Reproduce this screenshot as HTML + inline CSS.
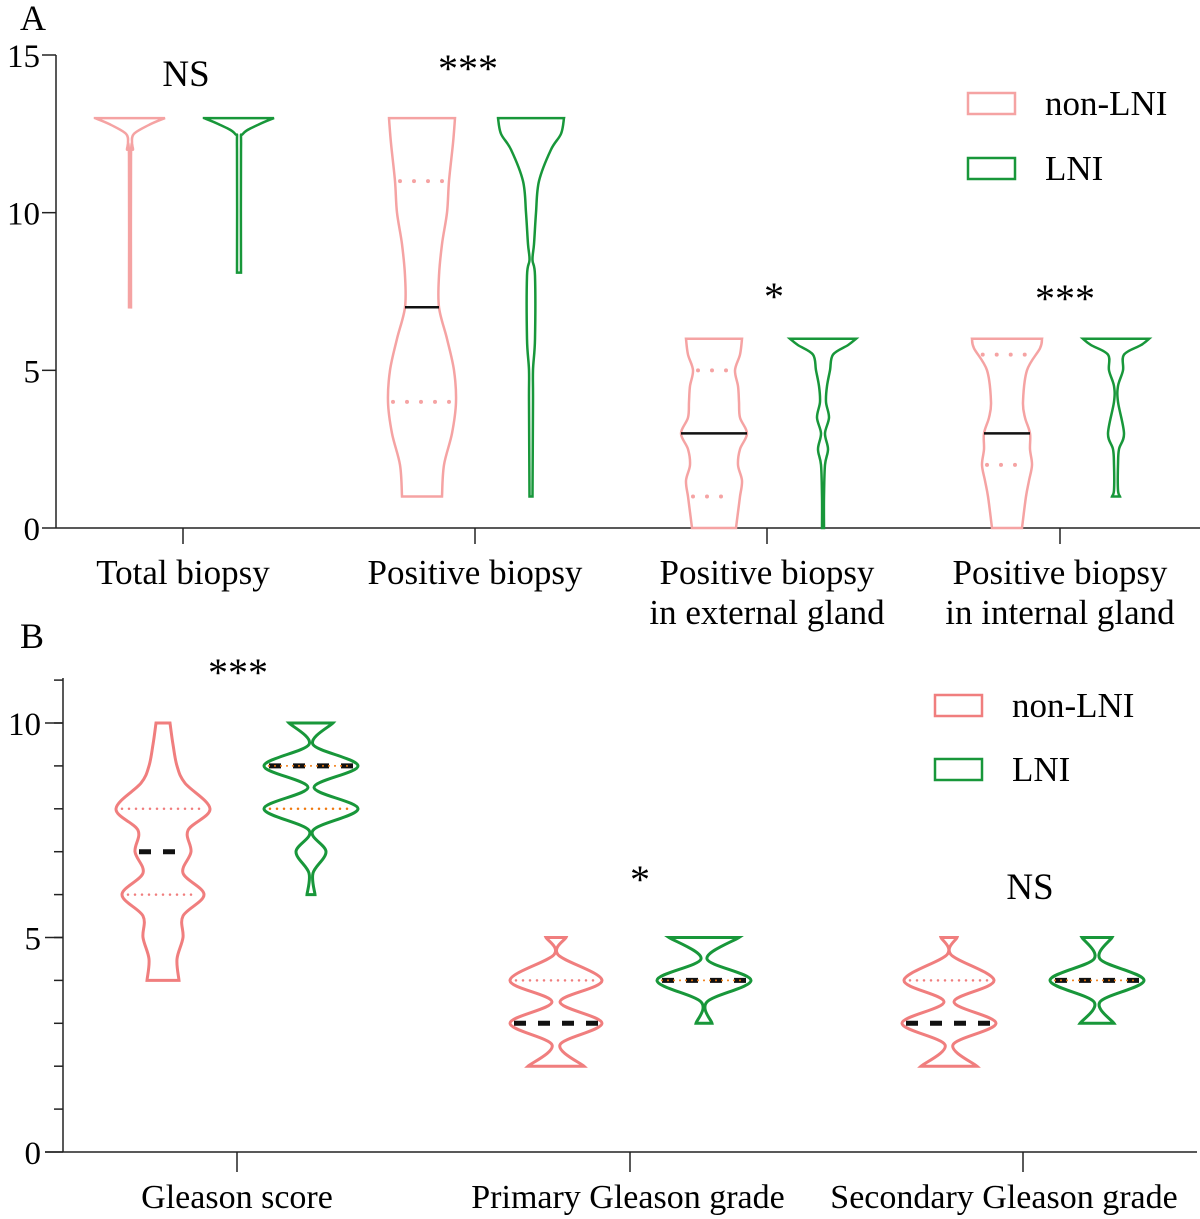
<!DOCTYPE html>
<html><head><meta charset="utf-8"><style>
body{margin:0;background:#fff;}
svg{display:block;}
svg text{font-family:"Liberation Serif","Times New Roman",serif;}
</style></head><body>
<svg id="chart" width="1200" height="1219" viewBox="0 0 1200 1219" font-family="Liberation Serif, serif">
<g id="pa"></g>
<g id="pb"></g>
</svg>
<script>
// ---- Panel A data ----
const labelsA = [["Total biopsy"],["Positive biopsy"],["Positive biopsy","in external gland"],["Positive biopsy","in internal gland"]];
const sigA = ["NS","***","*","***"];
const ticksA = [0,5,10,15];
// profiles: [value, relative half-width]
const nonA = [
 [[13,35],[12.8,20],[12.5,4],[12.2,2],[12,3],[11.8,1],[7,1]],
 [[13,33],[12.2,31],[11,27],[10,25],[9,20],[8,17],[7,17],[6,25],[5,32],[4,34],[3,30],[2,22],[1,20]],
 [[6,28],[5.5,26],[5,21],[4.5,24],[4,25],[3.5,26],[3,33],[2.5,26],[2,24],[1.5,28],[1,26],[0.5,24],[0,22]],
 [[6,35],[5.7,33],[5,20],[4,16],[3.5,18],[3,23],[2.5,23],[2,25],[1.5,22],[1,19],[0,15]]
];
const lniA = [
 [[13,35],[12.8,20],[12.5,4],[12,2],[8.1,2]],
 [[13,33],[12.5,30],[12,20],[11,8],[10,5],[9,3],[8.5,1.5],[8,4],[6,4],[5,2],[4,2],[1,1.5]],
 [[6,33],[5.8,25],[5.5,10],[5,7],[4.5,4],[4,3],[3.5,6],[3,2],[2.5,5],[2,2],[1,1],[0,1]],
 [[6,33],[5.8,25],[5.5,8],[5,7],[4.5,2],[4,2],[3,8],[2.5,3],[2,2],[1.2,2],[1,4]]
];
const medNonA = [13, 7, 3, 3];
const q1NonA = [13, 4, 1, 2];
const q3NonA = [13, 11, 5, 5.5];

// ---- Panel B data ----
const labelsB = ["Gleason score","Primary Gleason grade","Secondary Gleason grade"];
const sigB = ["***","*","NS"];
const ticksB = [0,5,10];
const nonB = [
 [[10,7],[9.5,10],[9,14],[8.6,22],[8,47],[7.5,25],[7,28],[6.5,20],[6,41],[5.5,20],[5,20],[4.5,14],[4,16]],
 [[5,10],[4.6,2],[4,46],[3.5,4],[3,46],[2.5,4],[2,28]],
 [[5,8],[4.6,2],[4,45],[3.5,5],[3,47],[2.5,4],[2,28]]
];
const lniB = [
 [[10,22],[9.5,2],[9,47],[8.5,3],[8,47],[7.5,2],[7,15],[6.5,2],[6,4]],
 [[5,35],[4.5,3],[4,47],[3.5,3],[3,8]],
 [[5,15],[4.5,3],[4,47],[3.5,3],[3,17]]
];
const medNonB = [7,3,3];
const quartNonB = [[8,6],[4],[4]];
const medLniB = [9,4,4];
const quartLniB = [[8],[],[]];

const NS="http://www.w3.org/2000/svg";
const FF='"Liberation Serif", serif';
function el(parent, tag, attrs, text){
  const e=document.createElementNS(NS,tag);
  for(const k in attrs) e.setAttribute(k,attrs[k]);
  if(tag==='text') e.setAttribute('font-family',FF);
  if(text!==undefined) e.textContent=text;
  parent.appendChild(e); return e;
}
function spline(pts){
  let d="";
  for(let i=0;i<pts.length-1;i++){
    const p0=pts[Math.max(0,i-1)],p1=pts[i],p2=pts[i+1],p3=pts[Math.min(pts.length-1,i+2)];
    const c1=[p1[0]+(p2[0]-p0[0])/6,p1[1]+(p2[1]-p0[1])/6];
    const c2=[p2[0]-(p3[0]-p1[0])/6,p2[1]-(p3[1]-p1[1])/6];
    d+=` C${c1[0].toFixed(1)},${c1[1].toFixed(1)} ${c2[0].toFixed(1)},${c2[1].toFixed(1)} ${p2[0].toFixed(1)},${p2[1].toFixed(1)}`;
  }
  return d;
}
function violinPath(prof,cx,ys,sc){
  const R=prof.map(p=>[cx+p[1]*sc,ys(p[0])]);
  const L=prof.slice().reverse().map(p=>[cx-p[1]*sc,ys(p[0])]);
  return `M${cx-prof[0][1]*sc},${ys(prof[0][0])} L${R[0][0]},${R[0][1]}`+spline(R)+` L${L[0][0]},${L[0][1]}`+spline(L)+" Z";
}
function hw(prof,v){
  for(let i=0;i<prof.length-1;i++){
    const a=prof[i],b=prof[i+1];
    if(v<=a[0]&&v>=b[0]){const t=(a[0]-v)/(a[0]-b[0]||1);return a[1]+(b[1]-a[1])*t;}
  }
  return prof[prof.length-1][1];
}

// ===== Panel A =====
(function(){
  const g=document.getElementById('pa');
  const ax0=56, ax1=1200, y0=528, y15=55;
  const ys=v=>y0-(y0-y15)*v/15;
  const groupX=[183,475,767,1060], off=[-53,56];
  el(g,'text',{x:20,y:30,'font-size':36,},'A');
  const ax=el(g,'g',{});
  el(ax,'line',{x1:ax0,y1:y15,x2:ax0,y2:y0,stroke:'#222','stroke-width':1.5});
  el(ax,'line',{x1:ax0,y1:y0,x2:ax1,y2:y0,stroke:'#222','stroke-width':1.5});
  ticksA.forEach(t=>{
    el(ax,'line',{x1:ax0-14,y1:ys(t),x2:ax0,y2:ys(t),stroke:'#222','stroke-width':1.5});
    const tl=el(ax,'text',{x:ax0-16,y:ys(t)+12,'font-size':33,'text-anchor':'end'},t);
    
    
  });
  groupX.forEach((gx,i)=>{
    el(ax,'line',{x1:gx,y1:y0,x2:gx,y2:y0+16,stroke:'#222','stroke-width':1.5});
    labelsA[i].forEach((ln,j)=>{
      const t=el(g,'text',{x:gx,y:584+j*40,'font-size':35,'text-anchor':'middle'},ln);
      
      
    });
    const sy=[86,82,310,312][i];
    const s=el(g,'text',{x:[186,468,774,1065][i],y:sy,'font-size':sigA[i]==='NS'?37:40,'text-anchor':'middle'},sigA[i]);
    
    
    const nx=gx+off[0], lx=gx+off[1];
    const pv=el(g,'path',{d:violinPath(nonA[i],nx,ys,1),fill:'none',stroke:'#f5a3a3','stroke-width':2.5});
    
    
    const gv=el(g,'path',{d:violinPath(lniA[i],lx,ys,1),fill:'none',stroke:'#18973a','stroke-width':2.5});
    
    
    if(i>0){
      const m=medNonA[i],w=hw(nonA[i],m);
      const ml=el(g,'line',{x1:nx-w,y1:ys(m),x2:nx+w,y2:ys(m),stroke:'#111','stroke-width':2.5});
      
      
      [q1NonA[i],q3NonA[i]].forEach(q=>{
        const w2=hw(nonA[i],q)-5;
        const ql=el(g,'line',{x1:nx-w2,y1:ys(q),x2:nx+w2,y2:ys(q),stroke:'#f5a3a3','stroke-width':4,'stroke-dasharray':'0 14','stroke-linecap':'round'});
        
        
      });
    }
  });
  const lg=el(g,'g',{});
  el(lg,'rect',{x:968,y:93,width:47,height:21,fill:'none',stroke:'#f5a3a3','stroke-width':2.5});
  el(lg,'text',{x:1045,y:115,'font-size':35},'non-LNI');
  el(lg,'rect',{x:968,y:158,width:47,height:21,fill:'none',stroke:'#18973a','stroke-width':2.5});
  el(lg,'text',{x:1045,y:180,'font-size':35},'LNI');
})();

// ===== Panel B =====
(function(){
  const g=document.getElementById('pb');
  const ax0=63, ax1=1197, y0=1152, y10=723;
  const ys=v=>y0-(y0-y10)*v/10;
  const groupX=[237,630,1023], off=[-74,74];
  el(g,'text',{x:20,y:648,'font-size':36,},'B');
  const ax=el(g,'g',{});
  el(ax,'line',{x1:ax0,y1:ys(11.05),x2:ax0,y2:y0,stroke:'#222','stroke-width':1.5});
  el(ax,'line',{x1:ax0-18,y1:y0,x2:ax1,y2:y0,stroke:'#222','stroke-width':1.5});
  for(let v=1;v<=11;v++) el(ax,'line',{x1:ax0-9,y1:ys(v),x2:ax0,y2:ys(v),stroke:'#222','stroke-width':1.5});
  ticksB.forEach(t=>{
    el(ax,'line',{x1:ax0-18,y1:ys(t),x2:ax0,y2:ys(t),stroke:'#222','stroke-width':1.5});
    const tl=el(ax,'text',{x:ax0-22,y:ys(t)+12,'font-size':33,'text-anchor':'end'},t);
    
    
  });
  groupX.forEach((gx,i)=>{
    el(ax,'line',{x1:gx,y1:y0,x2:gx,y2:y0+20,stroke:'#222','stroke-width':1.5});
    const t=el(g,'text',{x:gx+[0,-2,-19][i],y:1208,'font-size':34,'text-anchor':'middle'},labelsB[i]);
    
    
    const s=el(g,'text',{x:[238,640,1030][i],y:[686,893,899][i],'font-size':sigB[i]==='NS'?37:40,'text-anchor':'middle'},sigB[i]);
    
    
    const nx=gx+off[0], lx=gx+off[1];
    const pv=el(g,'path',{d:violinPath(nonB[i],nx,ys,1),fill:'none',stroke:'#f07e7e','stroke-width':3});
    
    
    const gv=el(g,'path',{d:violinPath(lniB[i],lx,ys,1),fill:'none',stroke:'#18973a','stroke-width':3});
    
    
    quartNonB[i].forEach(q=>{
      const w=hw(nonB[i],q)-6;
      const ql=el(g,'line',{x1:nx-w,y1:ys(q),x2:nx+w,y2:ys(q),stroke:'#f07e7e','stroke-width':2.5,'stroke-dasharray':'0 7','stroke-linecap':'round'});
      
      
    });
    quartLniB[i].forEach(q=>{
      const w=hw(lniB[i],q)-6;
      const ql=el(g,'line',{x1:lx-w,y1:ys(q),x2:lx+w,y2:ys(q),stroke:'#f07a10','stroke-width':2.5,'stroke-dasharray':'0 7','stroke-linecap':'round'});
      
      
    });
    const m=medNonB[i], w=hw(nonB[i],m)-4;
    const ml=el(g,'line',{x1:nx-w,y1:ys(m),x2:nx+w,y2:ys(m),stroke:'#111','stroke-width':5,'stroke-dasharray':'12 12'});
    
    
    const m2=medLniB[i], w2=hw(lniB[i],m2)-5;
    const ml2=el(g,'line',{x1:lx-w2,y1:ys(m2),x2:lx+w2,y2:ys(m2),stroke:'#111','stroke-width':5,'stroke-dasharray':'12 12'});
    
    
    el(g,'line',{x1:lx-w2,y1:ys(m2),x2:lx+w2,y2:ys(m2),stroke:'#f07a10','stroke-width':2,'stroke-dasharray':'0 6','stroke-linecap':'round'});
  });
  const lg=el(g,'g',{});
  el(lg,'rect',{x:935,y:695,width:47,height:21,fill:'none',stroke:'#f07e7e','stroke-width':2.5});
  el(lg,'text',{x:1012,y:717,'font-size':35},'non-LNI');
  el(lg,'rect',{x:935,y:759,width:47,height:21,fill:'none',stroke:'#18973a','stroke-width':2.5});
  el(lg,'text',{x:1012,y:781,'font-size':35},'LNI');
})();
</script>
</body></html>
